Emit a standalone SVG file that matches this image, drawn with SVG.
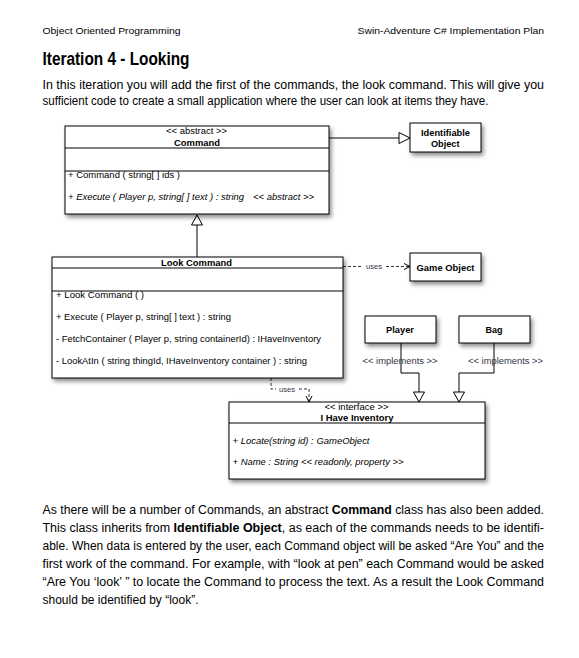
<svg xmlns="http://www.w3.org/2000/svg" width="579" height="658" viewBox="0 0 579 658">
<defs>
<filter id="sh" x="-10%" y="-10%" width="130%" height="140%">
<feDropShadow dx="2" dy="3" stdDeviation="2" flood-color="#000" flood-opacity="0.45"/>
</filter>
<marker id="open" markerWidth="10" markerHeight="10" refX="9" refY="5" orient="auto" markerUnits="userSpaceOnUse">
<path d="M3,2 L9,5 L3,8" fill="none" stroke="#000" stroke-width="1"/>
</marker>
</defs>
<style>
text{font-family:"Liberation Sans",Arial,sans-serif;fill:#000}
.hd{font-size:9.3px}
.ttl{font-size:18px;font-weight:bold}
.p{font-size:12px}
.st{font-size:9px}
.nm{font-size:9.3px;font-weight:bold}
.m{font-size:9.4px}
.i{font-style:italic}
.lbl{font-size:9.2px;fill:#334}
.us{font-size:8px;fill:#334}
.box{fill:#fff;stroke:#000;stroke-width:1}
.div{stroke:#000;stroke-width:1}
.ln{fill:none;stroke:#000;stroke-width:1}
.dash{fill:none;stroke:#333;stroke-width:1;stroke-dasharray:3,2}
.tri{fill:#fff;stroke:#000;stroke-width:1}
</style>
<rect width="579" height="658" fill="#fff"/>

<text class="hd" x="42.5" y="34" textLength="138" lengthAdjust="spacingAndGlyphs">Object Oriented Programming</text>
<text class="hd" x="357.5" y="34" textLength="186.5" lengthAdjust="spacingAndGlyphs">Swin-Adventure C# Implementation Plan</text>
<text class="ttl" x="42.5" y="64.5" textLength="147" lengthAdjust="spacingAndGlyphs">Iteration 4 - Looking</text>
<text class="p" x="42.5" y="89" textLength="501.5" lengthAdjust="spacingAndGlyphs">In this iteration you will add the first of the commands, the look command. This will give you</text>
<text class="p" x="42.5" y="105" textLength="446" lengthAdjust="spacingAndGlyphs">sufficient code to create a small application where the user can look at items they have.</text>

<g id="connectors">
<path class="ln" d="M329,138 H399"/>
<path class="tri" d="M399,132.5 L410,138 L399,143.5 Z"/>
<path class="ln" d="M197,257 V225"/>
<path class="tri" d="M191.5,225 L197,215 L202.5,225 Z"/>
<path class="dash" d="M343,266.5 H363"/>
<path class="dash" d="M386,266.5 H410" marker-end="url(#open)"/>
<text class="us" x="366" y="269" textLength="16" lengthAdjust="spacingAndGlyphs">uses</text>
<path class="dash" d="M271,378 V389 H276"/>
<path class="dash" d="M299,389 H309 V402" marker-end="url(#open)"/>
<text class="us" x="279" y="392" textLength="16" lengthAdjust="spacingAndGlyphs">uses</text>
<path class="ln" d="M401,343 V373 H419 V392"/>
<path class="tri" d="M413.5,392 L419,402 L424.5,392 Z"/>
<path class="ln" d="M494,343 V373 H459 V392"/>
<path class="tri" d="M453.5,392 L459,402 L464.5,392 Z"/>
<text class="lbl" x="362.5" y="364" textLength="75" lengthAdjust="spacingAndGlyphs">&lt;&lt; implements &gt;&gt;</text>
<text class="lbl" x="468" y="364" textLength="75" lengthAdjust="spacingAndGlyphs">&lt;&lt; implements &gt;&gt;</text>
</g>

<g id="command">
<rect class="box" x="65" y="126" width="264" height="88" filter="url(#sh)"/>
<line class="div" x1="65" y1="148" x2="329" y2="148"/>
<line class="div" x1="65" y1="171" x2="329" y2="171"/>
<text class="st" x="166" y="134" textLength="61" lengthAdjust="spacingAndGlyphs">&lt;&lt; abstract &gt;&gt;</text>
<text class="nm" x="174" y="145.5" textLength="46" lengthAdjust="spacingAndGlyphs">Command</text>
<text class="m" x="68" y="177.5" textLength="112" lengthAdjust="spacingAndGlyphs">+ Command ( string[ ] ids )</text>
<text class="m i" x="68" y="200" textLength="176" lengthAdjust="spacingAndGlyphs">+ Execute ( Player p, string[ ] text ) : string</text>
<text class="m i" x="253" y="200" textLength="61" lengthAdjust="spacingAndGlyphs">&lt;&lt; abstract &gt;&gt;</text>
</g>

<g id="identifiable-object">
<rect class="box" x="410" y="123" width="71" height="29" filter="url(#sh)"/>
<text class="nm" x="421" y="135.5" textLength="49" lengthAdjust="spacingAndGlyphs">Identifiable</text>
<text class="nm" x="431" y="146.5" textLength="28.5" lengthAdjust="spacingAndGlyphs">Object</text>
</g>

<g id="look-command">
<rect class="box" x="52" y="257" width="291" height="121" filter="url(#sh)"/>
<line class="div" x1="52" y1="268" x2="343" y2="268"/>
<line class="div" x1="52" y1="291" x2="343" y2="291"/>
<text class="nm" x="161" y="265.5" textLength="71" lengthAdjust="spacingAndGlyphs">Look Command</text>
<text class="m" x="56" y="297.5" textLength="88" lengthAdjust="spacingAndGlyphs">+ Look Command (  )</text>
<text class="m" x="56" y="320" textLength="175" lengthAdjust="spacingAndGlyphs">+ Execute ( Player p, string[ ] text ) : string</text>
<text class="m" x="56" y="342" textLength="265" lengthAdjust="spacingAndGlyphs">- FetchContainer ( Player p, string containerId) : IHaveInventory</text>
<text class="m" x="56" y="363.5" textLength="251" lengthAdjust="spacingAndGlyphs">- LookAtIn ( string thingId, IHaveInventory container ) : string</text>
</g>

<g id="game-object">
<rect class="box" x="410" y="253" width="71" height="28" filter="url(#sh)"/>
<text class="nm" x="416.5" y="270.5" textLength="58" lengthAdjust="spacingAndGlyphs">Game Object</text>
</g>

<g id="player">
<rect class="box" x="365" y="316" width="71" height="27" filter="url(#sh)"/>
<text class="nm" x="386" y="333" textLength="28" lengthAdjust="spacingAndGlyphs">Player</text>
</g>

<g id="bag">
<rect class="box" x="459" y="316" width="71" height="27" filter="url(#sh)"/>
<text class="nm" x="485.5" y="333" textLength="17" lengthAdjust="spacingAndGlyphs">Bag</text>
</g>

<g id="i-have-inventory">
<rect class="box" x="229" y="402" width="256" height="77" filter="url(#sh)"/>
<line class="div" x1="229" y1="423" x2="485" y2="423"/>
<text class="st" x="324.5" y="410" textLength="64" lengthAdjust="spacingAndGlyphs">&lt;&lt; interface &gt;&gt;</text>
<text class="nm" x="320.5" y="421" textLength="73" lengthAdjust="spacingAndGlyphs">I Have Inventory</text>
<text class="m i" x="232.5" y="443.5" textLength="137" lengthAdjust="spacingAndGlyphs">+ Locate(string id) : GameObject</text>
<text class="m i" x="232.5" y="464.5" textLength="171" lengthAdjust="spacingAndGlyphs">+ Name : String &lt;&lt; readonly, property &gt;&gt;</text>
</g>

<text class="p" x="42.5" y="514" textLength="501.5" lengthAdjust="spacingAndGlyphs">As there will be a number of Commands, an abstract <tspan font-weight="bold">Command</tspan> class has also been added.</text>
<text class="p" x="42.5" y="532" textLength="501.5" lengthAdjust="spacingAndGlyphs">This class inherits from <tspan font-weight="bold">Identifiable Object</tspan>, as each of the commands needs to be identifi-</text>
<text class="p" x="42.5" y="550" textLength="501.5" lengthAdjust="spacingAndGlyphs">able. When data is entered by the user, each Command object will be asked “Are You” and the</text>
<text class="p" x="42.5" y="568" textLength="501.5" lengthAdjust="spacingAndGlyphs">first work of the command. For example, with “look at pen” each Command would be asked</text>
<text class="p" x="42.5" y="586" textLength="501.5" lengthAdjust="spacingAndGlyphs">“Are You ‘look’ ” to locate the Command to process the text. As a result the Look Command</text>
<text class="p" x="42.5" y="604" textLength="156" lengthAdjust="spacingAndGlyphs">should be identified by “look”.</text>
</svg>
